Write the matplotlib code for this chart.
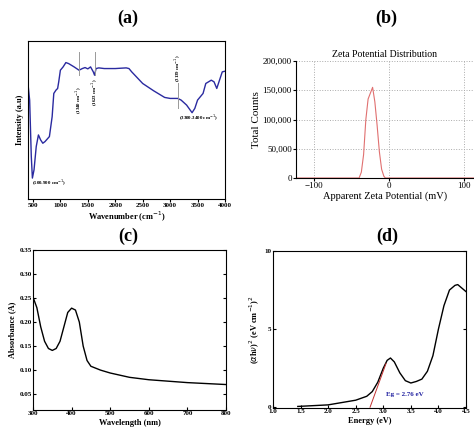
import numpy as np
import matplotlib
matplotlib.use("Agg")
import matplotlib.pyplot as plt

plt.rcParams['font.family'] = ['Liberation Serif', 'DejaVu Serif']

# (a) FTIR
ftir_x = [410,440,470,490,520,560,600,640,680,720,800,850,880,920,950,970,1000,1050,1100,1150,1200,1250,1340,1400,1450,1500,1550,1600,1623,1650,1700,1800,2000,2200,2250,2300,2500,2700,2900,3000,3139,3200,3300,3400,3450,3500,3550,3600,3650,3700,3750,3800,3850,3900,3950,4000]
ftir_py = [252,300,470,535,510,440,405,420,430,425,410,350,280,270,265,245,210,200,187,190,195,200,210,205,202,206,200,215,225,205,203,205,205,203,205,215,250,272,292,295,295,300,315,338,325,300,290,280,250,245,240,245,265,240,215,213]
ftir_y = [600 - p for p in ftir_py]

# (b) Zeta
zeta_x = [-124,-40,-37,-34,-31,-28,-25,-22,-19,-16,-13,-10,-7,-5,113]
zeta_y = [0,0,10000,40000,100000,135000,145000,155000,130000,90000,45000,15000,3000,0,0]

# (c) UV-vis
uv_x = [300,310,320,330,340,350,360,370,380,390,400,410,420,430,440,450,475,500,550,600,650,700,750,800]
uv_y = [0.252,0.23,0.19,0.16,0.145,0.141,0.145,0.16,0.19,0.22,0.229,0.225,0.2,0.15,0.12,0.108,0.1,0.094,0.085,0.08,0.077,0.074,0.072,0.07]

# (d) Tauc
tauc_x = [1.45,2.0,2.5,2.7,2.8,2.9,3.0,3.07,3.13,3.2,3.3,3.4,3.5,3.6,3.7,3.8,3.9,4.0,4.1,4.2,4.3,4.35,4.4,4.5]
tauc_y = [0.05,0.15,0.45,0.7,1.0,1.6,2.5,3.0,3.15,2.9,2.2,1.7,1.55,1.65,1.8,2.3,3.3,5.0,6.5,7.5,7.8,7.85,7.7,7.4]
fit_x = [2.76, 3.05]
fit_y = [0.0, 2.8]

W, H = 474, 434
fig = plt.figure(figsize=(4.74, 4.34), dpi=100)
def ax_px(l, r, t, b):
    return fig.add_axes([l / W, 1 - b / H, (r - l) / W, (b - t) / H])

fs = 5
bold = dict(fontweight='bold')

# (a)
a = ax_px(28, 225, 41, 199)
a.plot(ftir_x, ftir_y, color='#2a2aa0', lw=1)
a.set_xlim(410, 4000)
a.set_ylim(2, 478)
a.set_yticks([])
a.set_xticks(range(500, 4001, 500))
a.tick_params(labelsize=fs, length=2, pad=1)
for lab in a.get_xticklabels():
    lab.set_fontweight('bold')
a.set_xlabel('Wavenumber (cm$^{-1}$)', fontsize=6, labelpad=1, **bold)
a.set_ylabel('Intensity (a.u)', fontsize=6, labelpad=3, **bold)
for xv in (1340, 1623):
    a.plot([xv, xv], [600-155, 600-225], color='#999999', lw=0.7)
a.text(1340, 600-260, '(1340 cm$^{-1}$)', rotation=90, fontsize=3.5, ha='center', va='top', **bold)
a.text(1623, 600-235, '(1623 cm$^{-1}$)', rotation=90, fontsize=3.5, ha='center', va='top', **bold)
a.plot([3139, 3139], [600-250, 600-325], color='#999999', lw=0.7)
a.text(3139, 600-245, '(3139 cm$^{-1}$)', rotation=90, fontsize=3.5, ha='center', va='bottom', **bold)
a.text(3520, 600-355, '(3300-3400 cm$^{-1}$)', fontsize=3.5, ha='center', va='center', **bold)
a.text(480, 600-550, '(500-900 cm$^{-1}$)', fontsize=3.5, ha='left', va='center', **bold)
fig.text(128 / W, 1 - 18 / H, '(a)', fontsize=13, ha='center', va='center', **bold)

# (b)
b = ax_px(296, 474, 61, 178)
b.plot(zeta_x, zeta_y, color='#e07070', lw=0.8)
b.set_xlim(-124, 113)
b.set_ylim(0, 200000)
b.set_xticks([-100, 0, 100])
b.set_yticks([0, 50000, 100000, 150000, 200000])
b.set_yticklabels(['0', '50,000', '100,000', '150,000', '200,000'])
b.grid(True, linestyle=':', color='#aaaaaa', lw=0.7)
for s in ('top', 'right'):
    b.spines[s].set_visible(False)
b.tick_params(labelsize=6.5, length=2, pad=1)
b.set_title('Zeta Potential Distribution', fontsize=7, pad=3)
b.set_xlabel('Apparent Zeta Potential (mV)', fontsize=7.5, labelpad=1)
b.set_ylabel('Total Counts', fontsize=8, labelpad=1)
fig.text(386 / W, 1 - 18 / H, '(b)', fontsize=13, ha='center', va='center', **bold)

# (c)
c = ax_px(33, 226, 250, 410)
c.plot(uv_x, uv_y, color='black', lw=1)
c.set_xlim(300, 800)
c.set_ylim(0.017, 0.35)
c.set_yticks(np.arange(0.05, 0.351, 0.05))
c.set_yticklabels(['%.2f' % v for v in np.arange(0.05, 0.351, 0.05)])
c.tick_params(labelsize=fs, length=2, pad=1, right=True, direction='in')
for lab in c.get_xticklabels() + c.get_yticklabels():
    lab.set_fontweight('bold')
c.set_xlabel('Wavelength (nm)', fontsize=6, labelpad=2, **bold)
c.set_ylabel('Absorbance (A)', fontsize=6, labelpad=2, **bold)
fig.text(128 / W, 1 - 236 / H, '(c)', fontsize=13, ha='center', va='center', **bold)

# (d)
d = ax_px(273, 466, 251, 408)
d.plot(tauc_x, tauc_y, color='black', lw=1)
d.plot(fit_x, fit_y, color='#c03030', lw=0.7)
d.set_xlim(1.0, 4.5)
d.set_ylim(-0.05, 10)
d.set_xticks(np.arange(1.0, 4.51, 0.5))
d.set_yticks([0, 5, 10])
d.tick_params(labelsize=fs, length=2, pad=1, right=True, direction='in')
for lab in d.get_xticklabels() + d.get_yticklabels():
    lab.set_fontweight('bold')
d.text(3.05, 0.8, 'Eg = 2.76 eV', color='#2020a0', fontsize=5, ha='left', va='center', **bold)
d.set_xlabel('Energy (eV)', fontsize=6, labelpad=2, **bold)
d.set_ylabel(r'($\alpha$h$\nu$)$^2$ (eV cm$^{-1}$)$^2$', fontsize=6, labelpad=2, **bold)
fig.text(387 / W, 1 - 236 / H, '(d)', fontsize=13, ha='center', va='center', **bold)

fig.savefig('out.png', dpi=100)
